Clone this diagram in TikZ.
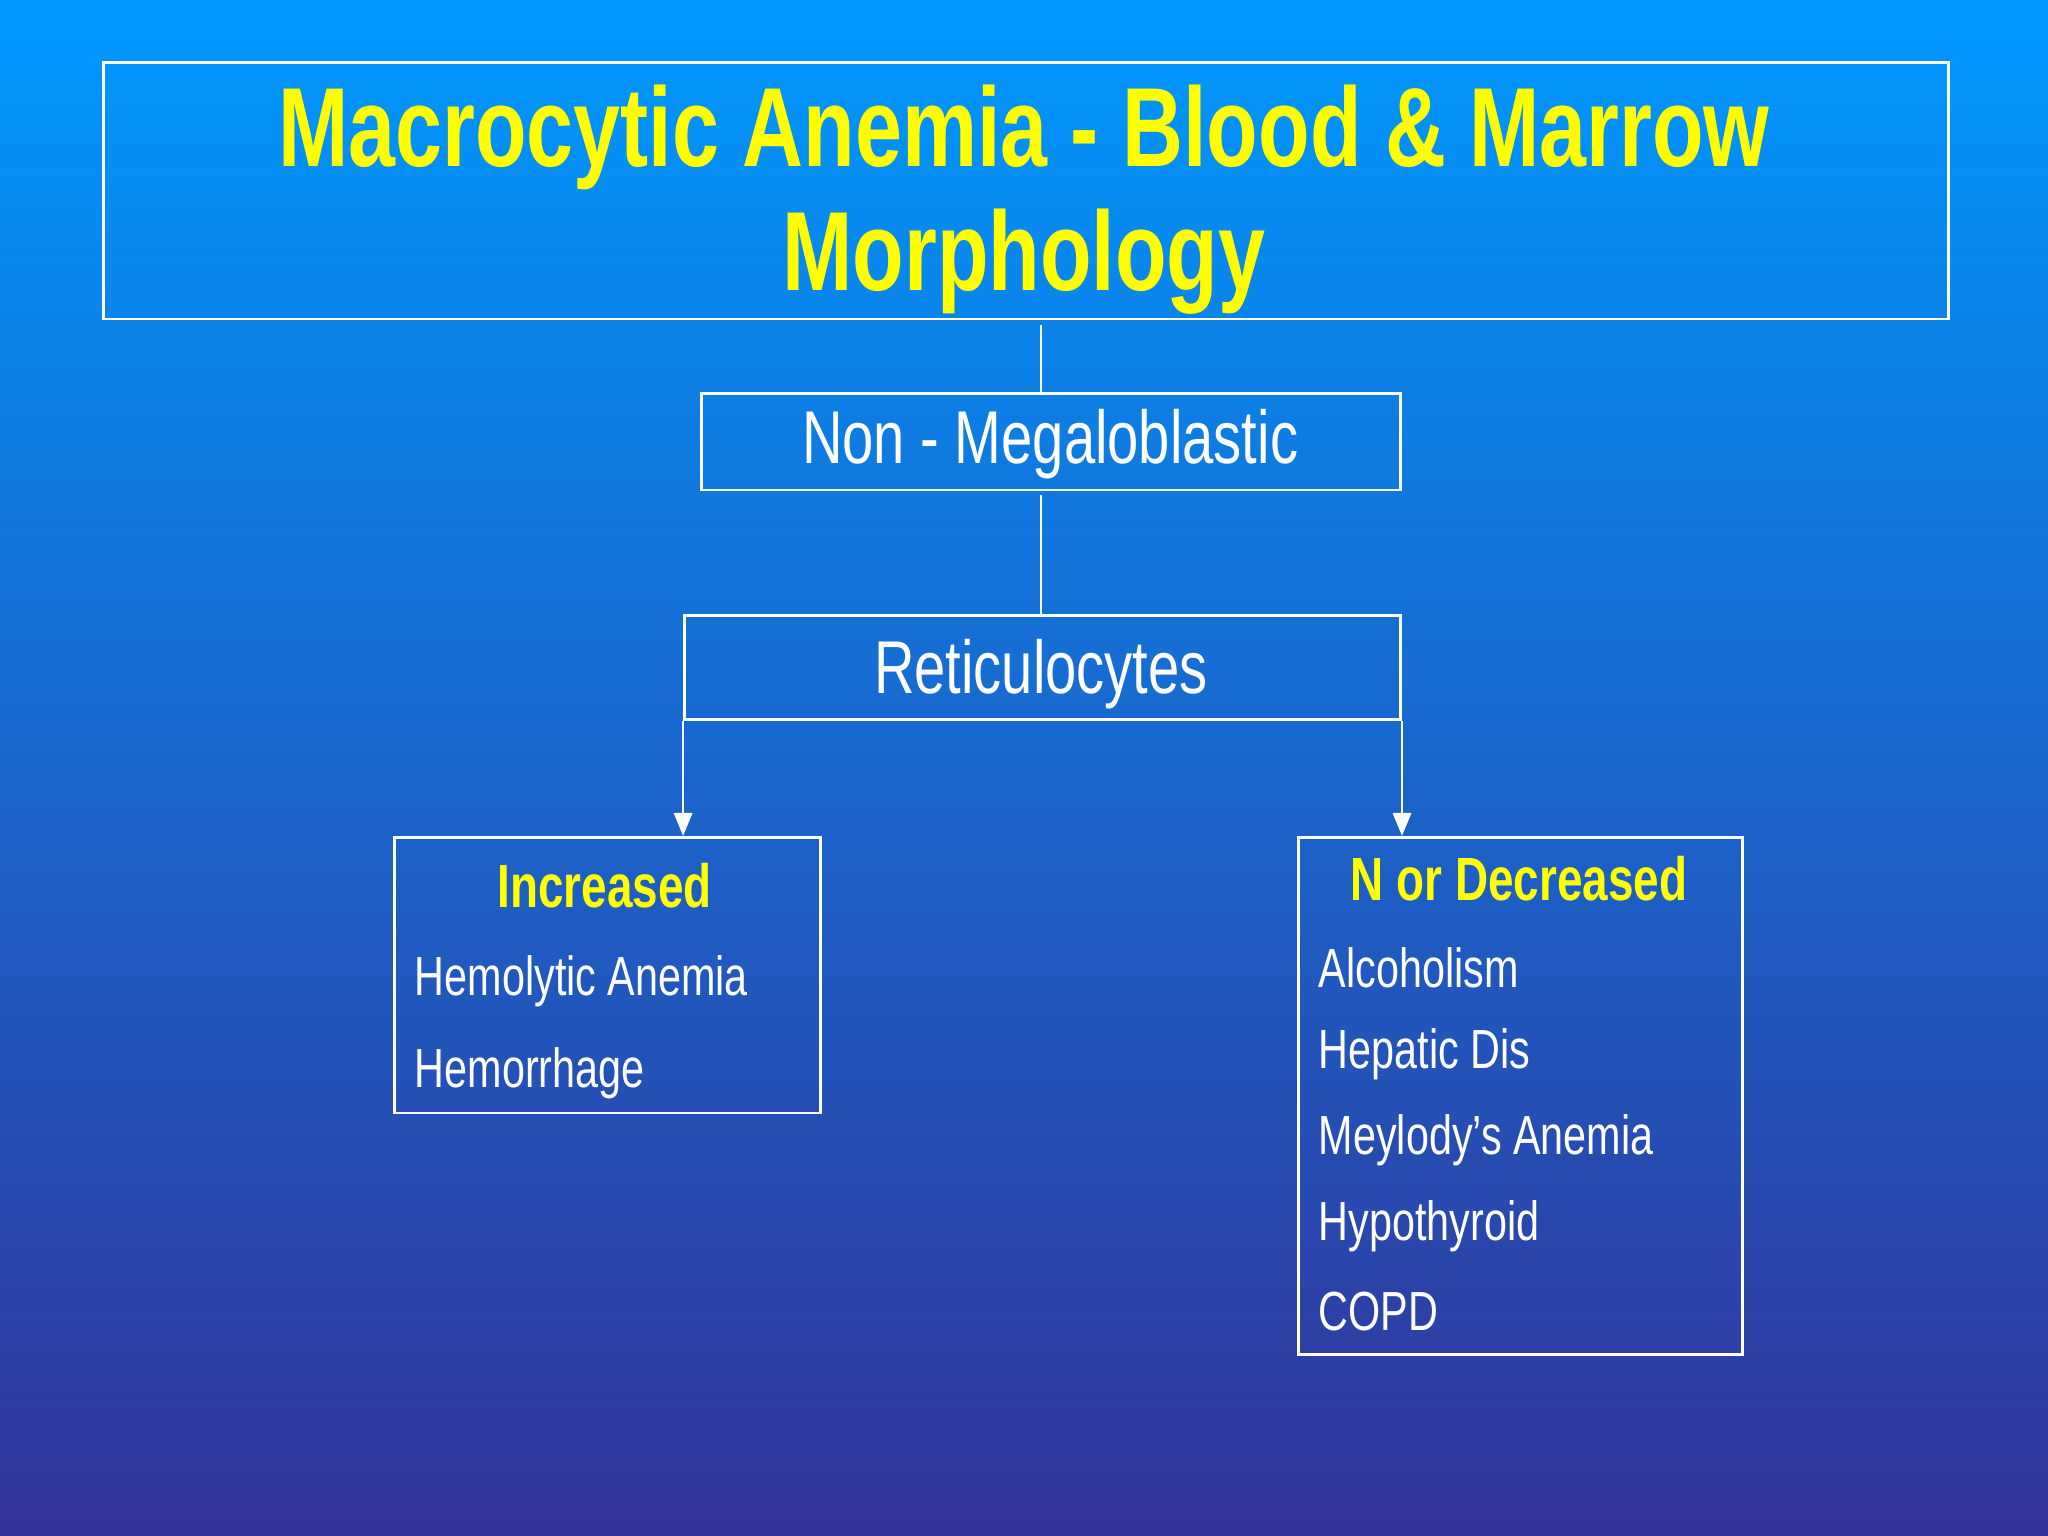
\documentclass[tikz,border=0pt]{standalone}
\usepackage{fontspec}
\setmainfont[FakeStretch=0.75]{Liberation Sans}
\usetikzlibrary{arrows.meta}
\definecolor{topc}{RGB}{0,153,255}
\definecolor{botc}{RGB}{51,51,153}
\definecolor{ylw}{RGB}{255,255,0}
\tikzset{
 box/.style={draw=white,line width=0.6pt,anchor=north west,inner sep=0pt},
 con/.style={draw=white,line width=0.5pt},
 arr/.style={con,-{Triangle[width=4pt,length=5pt]}},
 item/.style={anchor=west,text=white,font=\fontsize{12pt}{14pt}\selectfont,inner sep=0pt},
 head/.style={text=ylw,font=\bfseries\fontsize{13.3pt}{15pt}\selectfont,inner sep=0pt}
}
\begin{document}
\begin{tikzpicture}[x=0.01cm,y=-0.01cm]
\shade[top color=topc,bottom color=botc] (0,0) rectangle (1568,1176);
\useasboundingbox (0,0) rectangle (1568,1176);
\node[box,minimum width=14.12cm,minimum height=1.96cm] (title) at (78,47) {};
\node[text=ylw,font=\bfseries\fontsize{24.5pt}{27pt}\selectfont,align=center] (tt) at (784,153) {Macrocytic Anemia - Blood \& Marrow\\Morphology};
\node[box,minimum width=5.35cm,minimum height=0.74cm] (non) at (536,300) {};
\node[text=white,font=\fontsize{16.3pt}{19pt}\selectfont] at (804,340) {Non - Megaloblastic};
\node[box,minimum width=5.48cm,minimum height=0.8cm] (ret) at (523,470) {};
\node[text=white,font=\fontsize{16.3pt}{19pt}\selectfont] at (797,516) {Reticulocytes};
\node[box,minimum width=3.26cm,minimum height=2.11cm] (inc) at (301,640) {};
\node[box,minimum width=3.4cm,minimum height=3.96cm] (dec) at (993,640) {};
\coordinate (a1) at (797,249);
\draw[con] (a1) -- (a1 |- non.north);
\draw[con] (797,379) -- (797,470);
\draw[arr] (ret.south west) -- (inc.north -| ret.south west);
\draw[arr] (ret.south east) -- (dec.north -| ret.south east);
\node[head] at (463,678) {Increased};
\node[item] at (317,751) {Hemolytic Anemia};
\node[item] at (317,822) {Hemorrhage};
\node[head] at (1163,673) {N or Decreased};
\node[item] at (1009,741) {Alcoholism};
\node[item] at (1009,807) {Hepatic Dis};
\node[item] at (1009,873) {Meylody’s Anemia};
\node[item] at (1009,939) {Hypothyroid};
\node[item] at (1009,1004) {COPD};
\end{tikzpicture}
\end{document}
